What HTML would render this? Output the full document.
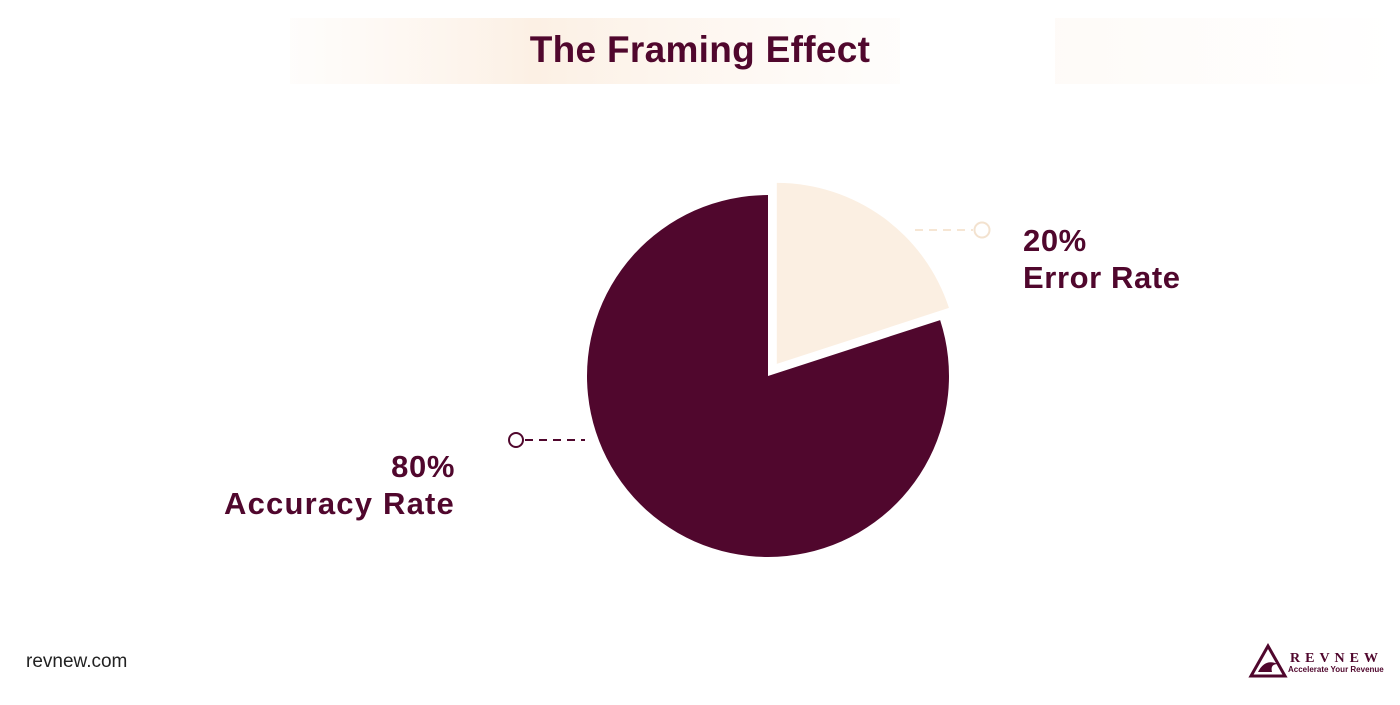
<!DOCTYPE html>
<html><head><meta charset="utf-8"><style>
body{margin:0;width:1400px;height:700px;background:#fff;overflow:hidden;font-family:"Liberation Sans",sans-serif}
</style></head><body>
<svg width="1400" height="700">
<defs>
<linearGradient id="tg" x1="0" x2="1" y1="0" y2="0">
<stop offset="0" stop-color="#fdf4ec" stop-opacity="0.2"/><stop offset="0.4" stop-color="#fcf0e4"/><stop offset="1" stop-color="#fdf4ec" stop-opacity="0.2"/>
</linearGradient>
<linearGradient id="tg2" x1="0" x2="1"><stop offset="0" stop-color="#fdf4ec"/><stop offset="1" stop-color="#fff"/></linearGradient>
</defs>
<rect x="290" y="18" width="610" height="66" fill="url(#tg)"/>
<rect x="1055" y="18" width="345" height="66" fill="url(#tg2)" opacity="0.4"/>
<text x="700" y="62" text-anchor="middle" font-size="37" font-weight="bold" fill="#50072d" letter-spacing="0.3">The Framing Effect</text>
<g id="pie"></g>
<line x1="915" y1="230" x2="973" y2="230" stroke="#f6e6d4" stroke-width="2" stroke-dasharray="8,6"/>
<circle cx="982" cy="230" r="7.5" fill="#fff" stroke="#f3e2cf" stroke-width="2"/>
<line x1="525" y1="440" x2="585" y2="440" stroke="#50072d" stroke-width="2" stroke-dasharray="8,6"/>
<circle cx="516" cy="440" r="7" fill="#fff" stroke="#50072d" stroke-width="2"/>
<g font-size="31" font-weight="bold" fill="#50072d" letter-spacing="0.6">
<text x="1023" y="251">20%</text>
<text x="1023" y="288">Error Rate</text>
<text x="455" y="477" text-anchor="end">80%</text>
<text x="455" y="514" text-anchor="end" letter-spacing="1.2">Accuracy Rate</text>
</g>
<text x="26" y="667" font-size="19" fill="#222">revnew.com</text>
<g>
<path d="M1268 646 L1251 676 L1285 676 Z" fill="none" stroke="#50072d" stroke-width="3"/>
<path d="M1258 672 Q1265 658 1278 664 Q1270 664 1272 672 Z" fill="#50072d"/>
<text x="1290" y="662" font-size="14" font-weight="bold" fill="#50072d" letter-spacing="5" font-family="Liberation Serif,serif">REVNEW</text>
<text x="1288" y="672" font-size="8" font-weight="bold" fill="#50072d">Accelerate Your Revenue</text>
</g>
</svg>
<script>
const categories=["Error Rate","Accuracy Rate"];
const values=[20,80];
const colors=["#fbefe2","#50072d"];
const cx=768,cy=376,r=181,explode=[15,0];
const g=document.getElementById('pie');
const total=values.reduce((a,b)=>a+b,0);
let a0=0;
values.forEach((v,i)=>{
 const a1=a0+v/total*2*Math.PI, mid=(a0+a1)/2;
 const ox=cx+explode[i]*Math.sin(mid), oy=cy-explode[i]*Math.cos(mid);
 const p=a=>[ox+r*Math.sin(a),oy-r*Math.cos(a)];
 const s=p(a0),e=p(a1),large=(a1-a0)>Math.PI?1:0;
 const path=document.createElementNS('http://www.w3.org/2000/svg','path');
 path.setAttribute('d',`M${ox} ${oy} L${s[0]} ${s[1]} A${r} ${r} 0 ${large} 1 ${e[0]} ${e[1]} Z`);
 path.setAttribute('fill',colors[i]);
 
 
 g.appendChild(path);
 a0=a1;
});
</script>
</body></html>
